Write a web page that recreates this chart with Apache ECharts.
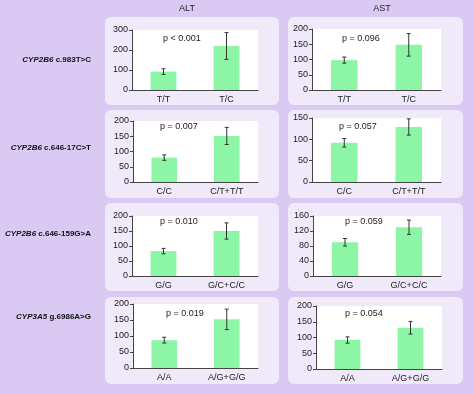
<!DOCTYPE html>
<html><head><meta charset="utf-8">
<script src="https://cdn.jsdelivr.net/npm/echarts@6/dist/echarts.min.js"></script>
<style>html,body{margin:0;padding:0;background:#d9c9f3}#c{width:474px;height:394px}</style>
</head><body><div id="c"></div>
<script>
const genes = ['CYP2B6', 'CYP2B6', 'CYP2B6', 'CYP3A5'];
const variants = ['c.983T>C', 'c.646-17C>T', 'c.646-159G>A', 'g.6986A>G'];
const categories = [['T/T','T/C'], ['C/C','C/T+T/T'], ['G/G','G/C+C/C'], ['A/A','A/G+G/G']];
const altMean = [[92, 220], [80, 151], [83, 150], [87, 152]];
const altErr = [[14, 67], [9, 28], [9, 27], [9, 32]];
const astMean = [[98, 148], [92, 129], [90, 130], [92, 131]];
const astErr = [[10, 37], [10, 19], [10, 19], [10, 20]];
const pAlt = ['p < 0.001', 'p = 0.007', 'p = 0.010', 'p = 0.019'];
const pAst = ['p = 0.096', 'p = 0.057', 'p = 0.059', 'p = 0.054'];
const yMaxAlt = [300, 200, 200, 200];
const yStepAlt = [100, 50, 50, 50];
const yMaxAst = [200, 150, 160, 200];
const yStepAst = [50, 50, 40, 50];
const headers = ['ALT', 'AST'];

// layout
const panelsY = [[17, 105], [110, 198], [203, 291], [297, 384]];
const panelsX = [[105, 279], [288, 463]];
const gridBoxes = [
  [[132, 30, 126, 60], [312, 29, 129, 61]],
  [[133, 121, 125, 61], [312, 118, 129, 64]],
  [[132, 216, 126, 60], [313, 216, 128, 60]],
  [[133, 304, 125, 64], [316, 306, 126, 63]]
];
const pPos = [
  [[163, 39], [342, 39]],
  [[160, 127], [339, 127]],
  [[160, 222], [345, 222]],
  [[166, 314], [345, 314]]
];
const rowLabelY = [60, 148, 234, 317];
const headerX = [187, 382];

const chart = echarts.init(document.getElementById('c'), null, {renderer: 'canvas'});
const grid = [], xAxis = [], yAxis = [], series = [], graphic = [];
const font = 'Liberation Sans, Arial, Helvetica, sans-serif';

// panels
for (let r = 0; r < 4; r++) {
  for (let c = 0; c < 2; c++) {
    graphic.push({type: 'rect', z: -10, silent: true,
      shape: {x: panelsX[c][0], y: panelsY[r][0], width: panelsX[c][1] - panelsX[c][0], height: panelsY[r][1] - panelsY[r][0], r: 6},
      style: {fill: '#f0e9fa'}});
  }
  graphic.push({type: 'text', x: 91, y: rowLabelY[r], style: {
    text: '{g|' + genes[r] + ' }{v|' + variants[r] + '}',
    align: 'right', verticalAlign: 'middle',
    rich: {g: {fontStyle: 'italic', fontWeight: 'bold', fontSize: 8, fontFamily: font, fill: '#111'},
           v: {fontWeight: 'bold', fontSize: 8, fontFamily: font, fill: '#111'}}
  }});
}
headers.forEach((h, c) => graphic.push({type: 'text', x: headerX[c], y: 9, style: {text: h, align: 'center', verticalAlign: 'middle', fontSize: 9, fontFamily: font, fill: '#222'}}));

function errRender(params, api) {
  const x = api.value(0), lo = api.value(1), hi = api.value(2);
  const p1 = api.coord([x, hi]), p2 = api.coord([x, lo]);
  const w = 2;
  const st = {stroke: '#333', lineWidth: 1};
  return {type: 'group', children: [
    {type: 'line', shape: {x1: p1[0], y1: p1[1], x2: p2[0], y2: p2[1]}, style: st},
    {type: 'line', shape: {x1: p1[0] - w, y1: p1[1], x2: p1[0] + w, y2: p1[1]}, style: st},
    {type: 'line', shape: {x1: p2[0] - w, y1: p2[1], x2: p2[0] + w, y2: p2[1]}, style: st}
  ]};
}

let gi = 0;
for (let r = 0; r < 4; r++) {
  for (let c = 0; c < 2; c++) {
    const b = gridBoxes[r][c];
    const means = c === 0 ? altMean[r] : astMean[r];
    const errs = c === 0 ? altErr[r] : astErr[r];
    grid.push({left: b[0], top: b[1], width: b[2], height: b[3], show: true, backgroundColor: '#ffffff', borderWidth: 0, containLabel: false});
    xAxis.push({type: 'category', gridIndex: gi, data: categories[r],
      axisLine: {lineStyle: {color: '#444', width: 1}}, axisTick: {show: false},
      axisLabel: {fontSize: 9, fontFamily: font, color: '#222', margin: 5}});
    yAxis.push({type: 'value', gridIndex: gi, min: 0,
      max: c === 0 ? yMaxAlt[r] : yMaxAst[r], interval: c === 0 ? yStepAlt[r] : yStepAst[r],
      splitLine: {show: false},
      axisLine: {show: true, lineStyle: {color: '#444', width: 1}},
      axisTick: {show: true, length: 3, lineStyle: {color: '#444'}},
      axisLabel: {fontSize: 9, fontFamily: font, color: '#222', margin: 4}});
    series.push({type: 'bar', xAxisIndex: gi, yAxisIndex: gi, data: means, barWidth: '41%',
      itemStyle: {color: '#8cf5a6'}, silent: true});
    series.push({type: 'custom', xAxisIndex: gi, yAxisIndex: gi, renderItem: errRender, silent: true, z: 5,
      data: means.map((m, i) => [i, m - errs[i], m + errs[i]])});
    const pp = pPos[r][c];
    graphic.push({type: 'text', x: pp[0], y: pp[1], z: 10, style: {text: c === 0 ? pAlt[r] : pAst[r], align: 'left', verticalAlign: 'middle', fontSize: 9, fontFamily: font, fill: '#222'}});
    gi++;
  }
}

chart.setOption({backgroundColor: '#d9c9f3', animation: false, grid, xAxis, yAxis, series, graphic});
</script>
</body></html>
